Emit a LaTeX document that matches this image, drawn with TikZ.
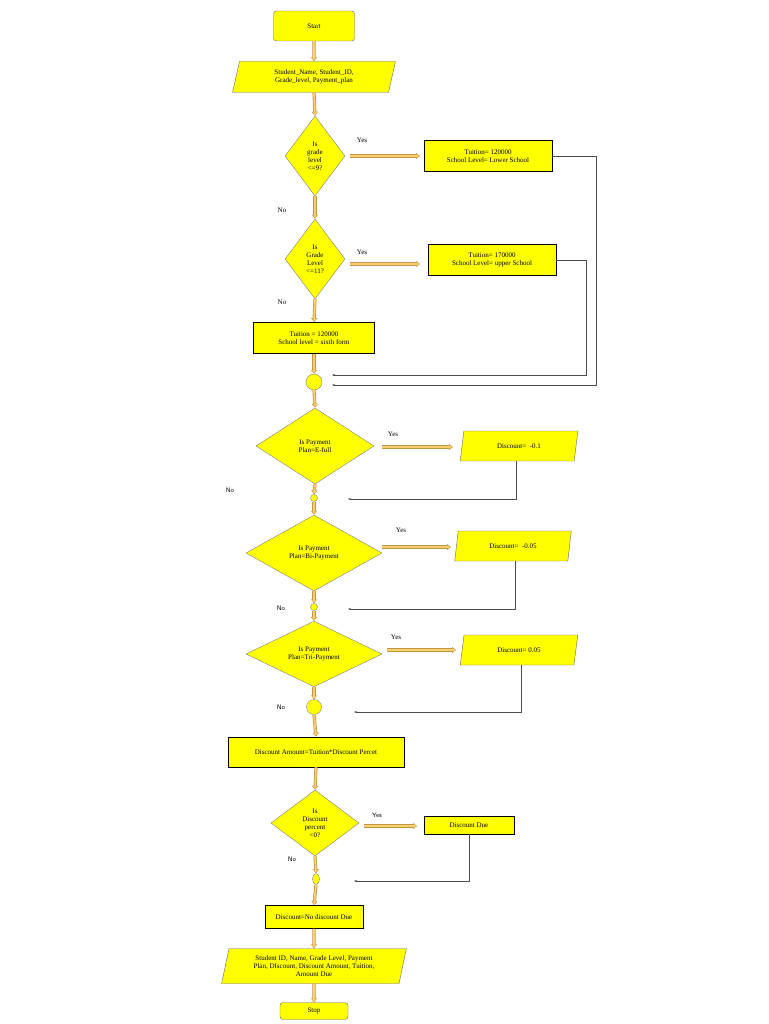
\documentclass[tikz,border=0pt]{standalone}
\usepackage{fontspec}
\setmainfont{Liberation Serif}
\newfontfamily\sff{Liberation Sans}
\usetikzlibrary{shapes.geometric,arrows.meta}
\definecolor{fy}{RGB}{255,255,0}
\definecolor{ab}{RGB}{190,150,70}
\definecolor{af}{RGB}{250,205,110}
\begin{document}
\begin{tikzpicture}[x=1pt,y=-1pt,
  every node/.style={font=\fontsize{7}{8}\selectfont,align=center,inner sep=1pt},
  box/.style={draw=black,line width=0.8pt,fill=fy,minimum width=#1},
  rbox/.style={draw=black!60,fill=fy,rounded corners=3pt,minimum width=#1},
  para/.style={trapezium,trapezium stretches=true,trapezium left angle=77,trapezium right angle=103,draw=black!60,fill=fy,minimum width=#1},
  dia/.style={diamond,draw=black!50,fill=fy,inner sep=0pt},
  conn/.style={circle,draw=black!50,fill=fy,inner sep=0pt,minimum size=#1},
  fat/.style={-{Triangle[length=4pt,width=6pt]},draw=ab,line width=3.2pt,
    postaction={draw=af,line width=1.8pt,-{Triangle[length=2.6pt,width=3.8pt]},shorten >=0.9pt}},
  ret/.style={draw=black!70,line width=0.5pt,-{Stealth[length=3pt]}},
  lab/.style={font=\fontsize{7}{8}\selectfont},
  nol/.style={font=\sffamily\fontsize{6.5}{7}\selectfont}]
\useasboundingbox (0,0) rectangle (768,1024);
\node[rbox=81pt,minimum height=30pt] (start) at (314,26) {Start};
\node[para=164pt,minimum height=31pt] (in) at (314,77) {Student\_Name, Student\_ID,\\Grade\_level, Payment\_plan};
\node[dia,minimum width=60pt,minimum height=80pt] (d1) at (315,156) {Is\\grade\\level\\<=9?};
\node[box=128pt,minimum height=31pt] (b1) at (488,156) {Tuition= 120000\\School Level= Lower School};
\node[dia,minimum width=60pt,minimum height=80pt] (d2) at (315,259) {Is\\Grade\\Level\\<=11?};
\node[box=128pt,minimum height=31pt] (b2) at (492,260) {Tuition= 170000\\School Level= upper School};
\node[box=121pt,minimum height=31pt] (b3) at (314,338) {Tuition = 120000\\School level = sixth form};
\node[conn=16pt] (c1) at (314,382) {};
\node[dia,minimum width=118pt,minimum height=76pt] (d3) at (315,446) {Is Payment\\Plan=E-full};
\node[para=118pt,minimum height=30pt] (p1) at (519,446) {Discount=\ \ -0.1};
\node[conn=7pt] (c2) at (314,498) {};
\node[dia,minimum width=136pt,minimum height=76pt] (d4) at (314,553) {Is Payment\\Plan=Bi-Payment};
\node[para=117pt,minimum height=30pt] (p2) at (513,546) {Discount=\ \ -0.05};
\node[conn=7pt] (c3) at (314,607) {};
\node[dia,minimum width=136pt,minimum height=60pt] (d5) at (314,654) {Is Payment\\Plan=Tri-Payment};
\node[para=118pt,minimum height=30pt] (p3) at (519,650) {Discount=\ 0.05};
\node[conn=15pt] (c4) at (314,707) {};
\node[box=176pt,minimum height=30pt] (da) at (316,752) {Discount Amount=Tuition*Discount Percet};
\node[dia,minimum width=88pt,minimum height=66pt] (d6) at (315,823) {Is\\Discount\\percent\\<0?};
\node[box=90pt,minimum height=18pt] (dd) at (469,825) {Discount Due};
\node[ellipse,draw=black!50,fill=fy,minimum width=7pt,minimum height=11pt,inner sep=0pt] (c5) at (316,879) {};
\node[box=98pt,minimum height=23pt] (nd) at (314,917) {Discount=No discount Due};
\node[para=185pt,minimum height=35pt] (out) at (314,966) {Student ID, Name, Grade Level, Payment\\Plan, DIscount, Discount Amount, Tuition,\\Amount Due};
\node[rbox=68pt,minimum height=17pt] (stop) at (314,1011) {Stop};
% down arrows
\foreach \a/\b in {start/in,in/d1,d1/d2,d2/b3,b3/c1,c1/d3,d3/c2,c2/d4,d4/c3,c3/d5,d5/c4,c4/da,da/d6,d6/c5,c5/nd,nd/out,out/stop}
  \draw[fat] (\a.south) -- (\b.north);
% yes arrows
\coordinate (y1s) at (350,156); \coordinate (y1e) at (420,156);
\coordinate (y2s) at (350,264); \coordinate (y2e) at (420,264);
\coordinate (y3s) at (382,447); \coordinate (y3e) at (453,447);
\coordinate (y4s) at (382,547); \coordinate (y4e) at (451,547);
\coordinate (y5s) at (387,650); \coordinate (y5e) at (456,650);
\coordinate (y6s) at (364,826); \coordinate (y6e) at (417,826);
\foreach \i in {1,...,6} \draw[fat] (y\i s) -- (y\i e);
\node[lab] (l1) at (362,140) {Yes};
\node[lab] (l2) at (362,252) {Yes};
\node[lab] (l3) at (393,434) {Yes};
\node[lab] (l4) at (401,530) {Yes};
\node[lab] (l5) at (396,637) {Yes};
\node[nol] (l6) at (377,815) {Yes};
\node[lab] (n1) at (282,210) {No};
\node[lab] (n2) at (282,302) {No};
\node[nol] (n3) at (230,490) {No};
\node[nol] (n4) at (281,608) {No};
\node[nol] (n5) at (281,707) {No};
\node[nol] (n6) at (292,859) {No};
% return lines
\coordinate (r1) at (332,385); \coordinate (r2) at (332,375);
\draw[ret] (b1.east) -- (596,156) |- (r1);
\draw[ret] (b2.east) -- (586,260) |- (r2);
\coordinate (r3) at (348,499); \draw[ret] (516,461) |- (r3);
\coordinate (r4) at (348,609); \draw[ret] (515,561) |- (r4);
\coordinate (r5) at (354,712); \draw[ret] (521,665) |- (r5);
\coordinate (r6) at (354,881); \draw[ret] (dd.south) |- (r6);
\end{tikzpicture}
\end{document}
